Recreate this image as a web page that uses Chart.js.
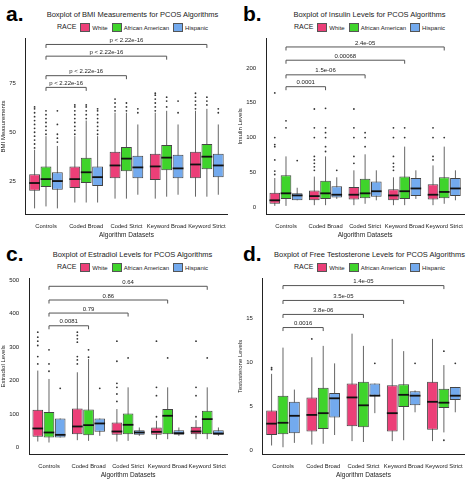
<!DOCTYPE html>
<html>
<head>
<meta charset="utf-8">
<script src="https://cdn.jsdelivr.net/npm/chart.js@4.4.0/dist/chart.umd.min.js"></script>
<style>
  body { margin: 0; background: #fff; font-family: "Liberation Sans", Arial, sans-serif; }
  #grid { display: grid; grid-template-columns: 237px 237px; grid-template-rows: 240px 239px; width: 474px; height: 479px; }
  .panel { position: relative; }
  .letter { position: absolute; left: 6px; top: 2px; font-size: 21px; font-weight: bold; color: #000; }
  .title { position: absolute; left: 28px; right: 0; top: 10px; text-align: center; font-size: 7.5px; color: #222; }
  .legend { position: absolute; left: 28px; right: 0; top: 23px; text-align: center; font-size: 6px; color: #222; }
  .legend span.sw { display: inline-block; width: 8px; height: 7px; border: 1px solid #555; vertical-align: middle; margin: 0 2px 0 4px; }
  .legend span { vertical-align: middle; }
  .legend b { font-weight: normal; font-size: 7px; }
  canvas { position: absolute; left: 0; top: 33px; }
</style>
</head>
<body>
<div id="grid"></div>
<script>
const categories = ['Controls', 'Coded Broad', 'Coded Strict', 'Keyword Broad', 'Keyword Strict'];
const races = ['White', 'African American', 'Hispanic'];
const raceColors = ['#ec3f78', '#3fd42b', '#73aaee'];

// each entry: [lower whisker, q1, median, q3, upper whisker]
const bmiWhite = [[11, 20, 24, 28.5, 41], [14, 21.5, 26, 32.5, 48], [16, 26.5, 33, 40, 60], [16, 25.5, 32.5, 39, 60], [17, 26.5, 33.5, 40, 61]];
const bmiAfrican = [[12, 22, 26, 32.5, 48], [14, 24, 29.5, 37, 56], [16, 30, 36.5, 42.5, 60], [17, 30.5, 37, 43.5, 61], [17, 31, 37.5, 44, 62]];
const bmiHispanic = [[11, 20.5, 25, 29.5, 43], [14, 22.5, 27, 32.5, 48], [18, 26.5, 32, 38, 54], [18, 26.5, 31.5, 38.5, 54], [18, 27, 33, 39, 54]];
const bmiOutWhite = [[42, 44, 46, 48, 50, 52, 54, 56, 58, 60, 62, 63], [49, 51, 53, 55, 57, 59, 61, 63, 64], [61, 63, 65, 67], [61, 63, 65, 67, 69, 70], [62, 64, 66, 68, 70]];
const bmiOutAfrican = [[49, 51, 53, 55, 57, 59, 61], [57, 59, 61, 63, 64], [61, 63, 65], [63, 66, 68], [64, 66, 68]];
const bmiOutHispanic = [[45, 47, 49, 54, 61], [49, 51, 53, 55, 57, 59, 61, 62], [60, 62], [60, 66], [60, 62]];
const bmiBrackets = [[1, 73, 'p < 2.22e-16'], [2, 79, 'p < 2.22e-16'], [3, 89, 'p < 2.22e-16'], [4, 95, 'p < 2.22e-16']];

const insWhite = [[2, 5, 10, 21, 42], [3, 10, 16, 24, 44], [3, 11, 18, 29, 53], [3, 10, 17, 26, 43], [3, 11, 18, 33, 60]];
const insAfrican = [[2, 12, 20, 46, 73], [3, 12, 20, 38, 73], [5, 13, 20, 41, 76], [3, 12, 23, 44, 87], [5, 13, 22, 43, 87]];
const insHispanic = [[10, 10, 17, 20, 28], [12, 14, 18, 30, 43], [10, 15, 23, 37, 53], [12, 16, 27, 42, 53], [10, 16, 27, 42, 53]];
const insOutWhite = [[47, 52, 68, 87, 90, 100, 164], [53, 58, 63, 68, 73, 100, 114, 141], [63, 73, 100, 114, 141], [53, 58, 63, 73, 100, 114], [68, 73, 100, 114]];
const insOutAfrican = [[114, 124], [80, 87, 100, 107, 114, 142], [87, 100, 107], [100, 114], [100]];
const insOutHispanic = [[67], [53], [], [], []];
const insBrackets = [[1, 173, '0.0001'], [2, 190, '1.5e-06'], [3, 211, '0.00068'], [4, 230, '2.4e-05']];

const estWhite = [[18, 32, 57, 113, 230], [22, 40, 63, 117, 225], [18, 38, 48, 75, 115], [25, 38, 47, 60, 80], [25, 40, 48, 62, 82]];
const estAfrican = [[15, 30, 45, 106, 205], [20, 37, 67, 114, 265], [20, 40, 68, 102, 180], [25, 40, 95, 115, 180], [25, 40, 85, 110, 180]];
const estHispanic = [[30, 30, 38, 87, 87], [35, 47, 72, 87, 87], [35, 38, 45, 52, 60], [35, 38, 43, 52, 60], [35, 38, 42, 52, 60]];
const estOutWhite = [[250, 272, 305, 318, 330, 345], [250, 262, 272, 315, 325, 335, 345], [138, 160, 180, 192, 258, 318], [92, 155, 180, 318], [92, 155, 180, 318]];
const estOutAfrican = [[228, 250, 292], [270, 292], [268], [268], [268]];
const estOutHispanic = [[177], [177], [], [], []];
const estBrackets = [[1, 364, '0.0081'], [2, 402, '0.79'], [3, 441, '0.86'], [4, 482, '0.64']];

const tesWhite = [[0.5, 1.7, 3, 4.5, 8.7], [0.6, 2.1, 4, 6, 10.6], [1, 2.7, 6, 7.6, 13.3], [1, 2.1, 4.2, 7.4, 12.7], [1, 2.3, 5.5, 7.8, 12.7]];
const tesAfrican = [[0.3, 1.8, 3.1, 6.2, 11.7], [0.7, 2.4, 4.2, 7.1, 11.9], [0.9, 2.6, 5.1, 7.8, 11.9], [1.1, 4.9, 6.3, 7.5, 11.3], [2, 4.8, 5.4, 7, 9.7]];
const tesHispanic = [[0.8, 1.9, 3.9, 5.5, 6.9], [1.7, 3.7, 5.9, 6.5, 9.9], [4.2, 6.2, 6.2, 7.6, 7.6], [4.3, 5.1, 6.2, 6.7, 6.8], [4.3, 5.7, 6.2, 7.2, 7.2]];
const tesOutWhite = [[9.2, 9.4], [12.7], [], [], []];
const tesOutAfrican = [[], [], [], [], [1.1, 11.3]];
const tesOutHispanic = [[], [], [9.9], [9.9], [9.9]];
const tesBrackets = [[1, 14, '0.0016'], [2, 15.5, '3.8e-06'], [3, 17.1, '3.5e-05'], [4, 18.8, '1.4e-05']];

const panels = [
    { letter: 'a.', title: 'Boxplot of BMI Measurements for PCOS Algorithms', yTitle: 'BMI Measurements',
      stats: [bmiWhite, bmiAfrican, bmiHispanic], outliers: [bmiOutWhite, bmiOutAfrican, bmiOutHispanic],
      brackets: bmiBrackets, min: 8, max: 98, ticks: [25, 50, 75] },
    { letter: 'b.', title: 'Boxplot of Insulin Levels for PCOS Algorithms', yTitle: 'Insulin Levels',
      stats: [insWhite, insAfrican, insHispanic], outliers: [insOutWhite, insOutAfrican, insOutHispanic],
      brackets: insBrackets, min: -10, max: 242, ticks: [0, 50, 100, 150, 200] },
    { letter: 'c.', title: 'Boxplot of Estradiol Levels for PCOS Algorithms', yTitle: 'Estradiol Levels',
      stats: [estWhite, estAfrican, estHispanic], outliers: [estOutWhite, estOutAfrican, estOutHispanic],
      brackets: estBrackets, min: -20, max: 505, ticks: [0, 100, 200, 300, 400, 500] },
    { letter: 'd.', title: 'Boxplot of Free Testosterone Levels for PCOS Algorithms', yTitle: 'Testosterone Levels',
      stats: [tesWhite, tesAfrican, tesHispanic], outliers: [tesOutWhite, tesOutAfrican, tesOutHispanic],
      brackets: tesBrackets, min: -0.5, max: 19.6, ticks: [0, 5, 10, 15] },
];

const boxPlugin = {
    id: 'boxes',
    beforeDatasetsDraw(chart) {
        const p = chart.options.plugins.boxes.panel;
        const y = chart.scales.y;
        const ctx = chart.ctx;
        ctx.save();
        ctx.strokeStyle = '#666';
        ctx.lineWidth = 1;
        p.stats.forEach((series, di) => {
            chart.getDatasetMeta(di).data.forEach((bar, i) => {
                const s = series[i];
                ctx.beginPath();
                ctx.moveTo(bar.x, y.getPixelForValue(s[0]));
                ctx.lineTo(bar.x, y.getPixelForValue(s[4]));
                ctx.stroke();
            });
        });
        ctx.restore();
    },
    afterDatasetsDraw(chart) {
        const p = chart.options.plugins.boxes.panel;
        const x = chart.scales.x;
        const y = chart.scales.y;
        const ctx = chart.ctx;
        ctx.save();
        p.stats.forEach((series, di) => {
            chart.getDatasetMeta(di).data.forEach((bar, i) => {
                const s = series[i];
                const half = bar.width / 2;
                ctx.strokeStyle = '#111';
                ctx.lineWidth = 1.8;
                ctx.beginPath();
                ctx.moveTo(bar.x - half, y.getPixelForValue(s[2]));
                ctx.lineTo(bar.x + half, y.getPixelForValue(s[2]));
                ctx.stroke();
                ctx.fillStyle = '#333';
                p.outliers[di][i].forEach((v) => {
                    ctx.beginPath();
                    ctx.arc(bar.x, y.getPixelForValue(v), 0.9, 0, Math.PI * 2);
                    ctx.fill();
                });
            });
        });
        const drop = (p.max - p.min) * 0.02;
        ctx.strokeStyle = '#555';
        ctx.lineWidth = 1;
        ctx.fillStyle = '#222';
        ctx.font = '6px "Liberation Sans", Arial, sans-serif';
        ctx.textAlign = 'center';
        ctx.textBaseline = 'bottom';
        p.brackets.forEach(([to, v, label]) => {
            const x0 = x.getPixelForValue(0);
            const x1 = x.getPixelForValue(to);
            const yt = y.getPixelForValue(v);
            const yb = y.getPixelForValue(v - drop);
            ctx.beginPath();
            ctx.moveTo(x0, yb);
            ctx.lineTo(x0, yt);
            ctx.lineTo(x1, yt);
            ctx.lineTo(x1, yb);
            ctx.stroke();
            ctx.fillText(label, (x0 + x1) / 2, yt - 1);
        });
        ctx.restore();
    },
};

const grid = document.getElementById('grid');
panels.forEach((p) => {
    const div = document.createElement('div');
    div.className = 'panel';
    let legend = '<b>RACE</b>';
    races.forEach((r, i) => {
        legend += `<span class="sw" style="background:${raceColors[i]}"></span><span>${r}</span>`;
    });
    div.innerHTML = `<div class="letter">${p.letter}</div><div class="title">${p.title}</div>` +
        `<div class="legend">${legend}</div><canvas width="237" height="206"></canvas>`;
    grid.appendChild(div);
    const canvas = div.querySelector('canvas');
    canvas.style.width = '237px';
    canvas.style.height = '206px';

    new Chart(canvas, {
        type: 'bar',
        data: {
            labels: categories,
            datasets: p.stats.map((series, i) => ({
                label: races[i],
                data: series.map((s) => [s[1], s[3]]),
                backgroundColor: raceColors[i],
                borderColor: '#444',
                borderWidth: 1,
                borderSkipped: false,
                barPercentage: 0.95,
                categoryPercentage: 0.85,
            })),
        },
        options: {
            responsive: false,
            animation: false,
            layout: { padding: { right: 10, top: 2 } },
            plugins: { legend: { display: false }, tooltip: { enabled: false }, boxes: { panel: p } },
            scales: {
                x: {
                    grid: { display: false },
                    border: { color: '#222' },
                    ticks: { color: '#222', font: { size: 5.8 }, maxRotation: 0, autoSkip: false, padding: 1 },
                    title: { display: true, text: 'Algorithm Datasets', color: '#222', font: { size: 6.5 }, padding: 0 },
                },
                y: {
                    min: p.min,
                    max: p.max,
                    afterBuildTicks: (axis) => { axis.ticks = p.ticks.map((v) => ({ value: v })); },
                    grid: { display: false },
                    border: { color: '#222' },
                    ticks: { color: '#222', font: { size: 6 }, padding: 2 },
                    title: { display: true, text: p.yTitle, color: '#222', font: { size: 6 }, padding: 0 },
                },
            },
        },
        plugins: [boxPlugin],
    });
});
</script>
</body>
</html>
